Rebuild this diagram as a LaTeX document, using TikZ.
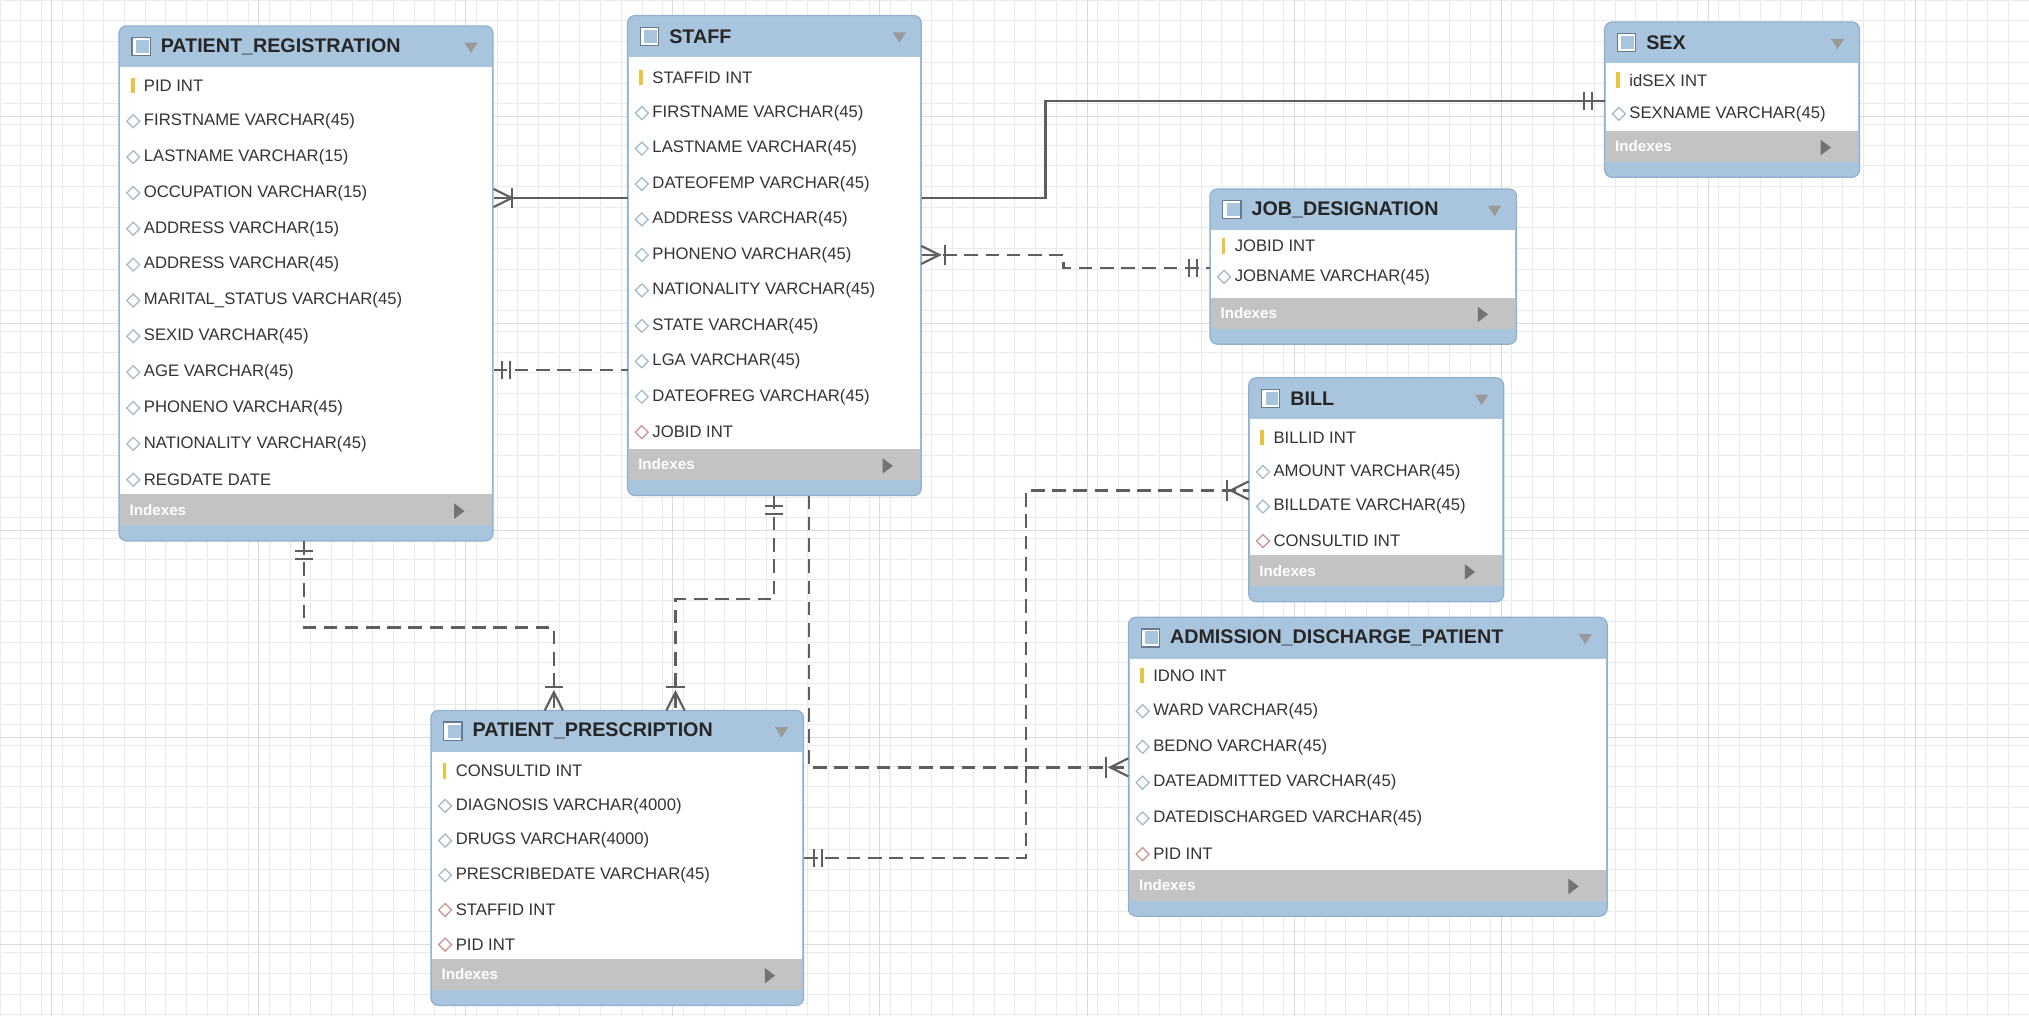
\documentclass[tikz,border=0pt]{standalone}
\usepackage{fontspec}
\setmainfont{Liberation Sans}
\usetikzlibrary{calc}
\definecolor{hdr}{HTML}{A9C4DD}
\definecolor{hdrdark}{HTML}{8FB0CE}
\definecolor{idx}{HTML}{C3C3C3}
\definecolor{gridc}{HTML}{EAEAEA}
\definecolor{gridm}{HTML}{DADADA}
\definecolor{linec}{HTML}{5E5E5E}
\definecolor{keyc}{HTML}{E8C440}
\definecolor{dia}{HTML}{9FB8CC}
\definecolor{fkc}{HTML}{D09090}
\tikzset{
 rel/.style={draw=linec,line width=1.6pt},
 reld/.style={rel,dash pattern=on 9pt off 5pt},
 mk/.style={draw=linec,line width=1.4pt},
 rowtxt/.style={anchor=west,inner sep=0pt,font=\fontsize{11}{13}\selectfont,text=black!80},
 ttl/.style={anchor=west,inner sep=0pt,font=\bfseries\fontsize{13}{15}\selectfont,text=black!85}
}
% #1 name #2 x #3 y #4 w #5 h #6 title #7 first row offset #8 spacing #9 list
\newcommand\ertable[9]{%
 \fill[hdr,rounded corners=5pt] (#2,#3) rectangle ++(#4,#5);
 \fill[white] (#2+1,#3+32) rectangle (#2+#4-1,#3+#5-36);
 \fill[idx] (#2+1,#3+#5-36) rectangle (#2+#4-1,#3+#5-12);
 \draw[hdrdark,line width=0.8pt,rounded corners=5pt] (#2,#3) rectangle ++(#4,#5);
 \node[inner sep=0pt,minimum width=#4*0.03cm,minimum height=#5*0.03cm,anchor=north west] (#1) at (#2,#3) {};
 \fill[white] (#2+10,#3+9) rectangle ++(14,14);
 \draw[hdrdark!70!black,line width=0.8pt] (#2+10,#3+9) rectangle ++(14,14);
 \fill[hdr] (#2+13,#3+11) rectangle ++(10,10);
 \node[ttl] at (#2+32,#3+16) {#6};
 \fill[gray!80] (#2+#4-22,#3+13) -- ++(10,0) -- ++(-5,8) -- cycle;
 \node[anchor=west,inner sep=0pt,text=white,font=\bfseries\fontsize{10}{12}\selectfont] at (#2+8,#3+#5-24) {Indexes};
 \fill[gray!90!black] (#2+#4-30,#3+#5-29) -- ++(0,12) -- ++(8,-6) -- cycle;
 \foreach \k/\t [count=\i from 0] in {#9} {
   \pgfmathsetmacro\yy{#3+32+#7+\i*#8}
   \ifnum\k=0
     \fill[keyc] (#2+9,\yy-6) rectangle ++(3,12);
   \else\ifnum\k=1
     \draw[dia,line width=0.8pt] (#2+6,\yy) -- ++(5,-5) -- ++(5,5) -- ++(-5,5) -- cycle;
   \else
     \draw[fkc,line width=0.8pt] (#2+6,\yy) -- ++(5,-5) -- ++(5,5) -- ++(-5,5) -- cycle;
   \fi\fi
   \node[rowtxt] at (#2+19,\yy) {\t};
 }%
}
\begin{document}
\begin{tikzpicture}[x=0.03cm,y=-0.03cm]
\useasboundingbox (0,0) rectangle (1568,785);
\fill[white] (0,0) rectangle (1568,785);
\foreach \gx in {0,16,...,1568} \draw[gridc,line width=0.4pt] (\gx,0) -- (\gx,785);
\foreach \gy in {0,16,...,785} \draw[gridc,line width=0.4pt] (0,\gy) -- (1568,\gy);
\foreach \gx in {40,200,...,1568} \draw[gridm,line width=0.6pt] (\gx,0) -- (\gx,785);
\foreach \gy in {90,250,...,785} \draw[gridm,line width=0.6pt] (0,\gy) -- (1568,\gy);

\ertable{pr}{92}{20}{289}{398}{PATIENT\_REGISTRATION}{14}{27.7}{0/PID INT,1/FIRSTNAME VARCHAR(45),1/LASTNAME VARCHAR(15),1/OCCUPATION VARCHAR(15),1/ADDRESS VARCHAR(15),1/ADDRESS VARCHAR(45),1/MARITAL\_STATUS VARCHAR(45),1/SEXID VARCHAR(45),1/AGE VARCHAR(45),1/PHONENO VARCHAR(45),1/NATIONALITY VARCHAR(45),1/REGDATE DATE}
\ertable{st}{485}{12}{227}{371}{STAFF}{16}{27.4}{0/STAFFID INT,1/FIRSTNAME VARCHAR(45),1/LASTNAME VARCHAR(45),1/DATEOFEMP VARCHAR(45),1/ADDRESS VARCHAR(45),1/PHONENO VARCHAR(45),1/NATIONALITY VARCHAR(45),1/STATE VARCHAR(45),1/LGA VARCHAR(45),1/DATEOFREG VARCHAR(45),2/JOBID INT}
\ertable{sx}{1240}{17}{197}{120}{SEX}{13}{26}{0/idSEX INT,1/SEXNAME VARCHAR(45)}
\ertable{jd}{935}{146}{237}{120}{JOB\_DESIGNATION}{12}{24}{0/JOBID INT,1/JOBNAME VARCHAR(45)}
\ertable{bl}{965}{292}{197}{173}{BILL}{14}{26.7}{0/BILLID INT,1/AMOUNT VARCHAR(45),1/BILLDATE VARCHAR(45),2/CONSULTID INT}
\ertable{ad}{872}{477}{370}{231}{ADMISSION\_DISCHARGE\_PATIENT}{13}{27.6}{0/IDNO INT,1/WARD VARCHAR(45),1/BEDNO VARCHAR(45),1/DATEADMITTED VARCHAR(45),1/DATEDISCHARGED VARCHAR(45),2/PID INT}
\ertable{pp}{333}{549}{288}{228}{PATIENT\_PRESCRIPTION}{15}{26.8}{0/CONSULTID INT,1/DIAGNOSIS VARCHAR(4000),1/DRUGS VARCHAR(4000),1/PRESCRIBEDATE VARCHAR(45),2/STAFFID INT,2/PID INT}

% 1 PR - STAFF solid
\draw[rel] (pr.east |- 0,153) -- (st.west |- 0,153);
\draw[mk] (pr.east |- 0,146) -- (pr.east |- 0,146) -- ++(14,7) -- ++(-14,7);
\draw[mk] (396,145) -- (396,161);
% 2 STAFF - SEX
\draw[rel] (st.east |- 0,153) -- (808,153) -- (808,78) -- (sx.west |- 0,78);
\draw[mk] (1224,71) -- (1224,85) (1230,71) -- (1230,85);
% 3 STAFF - JOB
\draw[reld] (st.east |- 0,197) -- (822,197) -- (822,207) -- (jd.west |- 0,207);
\draw[mk] (712,190) -- (726,197) -- (712,204);
\draw[mk] (730,189) -- (730,205);
\draw[mk] (919,200) -- (919,214) (925,200) -- (925,214);
% 4 PR - STAFF dashed
\draw[reld] (pr.east |- 0,286) -- (st.west |- 0,286);
\draw[mk] (388,279) -- (388,293) (394,279) -- (394,293);
% 5 PR - PP
\draw[reld] (235,418) -- (235,485) -- (428,485) -- (428,549);
\draw[mk] (228,426) -- (242,426) (228,432) -- (242,432);
\draw[mk] (421,531) -- (435,531);
\draw[mk] (421,549) -- (428,535) -- (435,549);
% 6 STAFF - PP
\draw[reld] (598,383) -- (598,463) -- (522,463) -- (522,549);
\draw[mk] (591,391) -- (605,391) (591,397) -- (605,397);
\draw[mk] (515,531) -- (529,531);
\draw[mk] (515,549) -- (522,535) -- (529,549);
% 7 STAFF - AD
\draw[reld] (625,383) -- (625,593) -- (ad.west |- 0,593);
\draw[mk] (872,586) -- (858,593) -- (872,600);
\draw[mk] (855,585) -- (855,601);
% 8 PP - BILL
\draw[reld] (pp.east |- 0,663) -- (793,663) -- (793,379) -- (bl.west |- 0,379);
\draw[mk] (629,656) -- (629,670) (635,656) -- (635,670);
\draw[mk] (965,372) -- (951,379) -- (965,386);
\draw[mk] (948,371) -- (948,387);
\end{tikzpicture}
\end{document}
